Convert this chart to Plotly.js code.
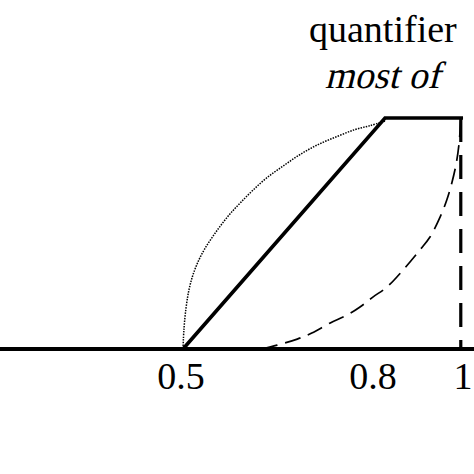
<!DOCTYPE html>
<html>
<head>
<meta charset="utf-8">
<script src="https://cdn.plot.ly/plotly-3.0.1.min.js"></script>
<style>html,body{margin:0;padding:0;background:#fff;}#chart{width:474px;height:474px;}</style>
</head>
<body>
<div id="chart"></div>
<script>
// Membership function of the quantifier "most of" (solid)
const solidX = [0.5, 0.8607, 1.0];
const solidY = [0, 1, 1];

// Dotted curve (concave)
const dottedX = [0.5, 0.5018, 0.5054, 0.5107, 0.5179, 0.5286, 0.5411, 0.5554, 0.5696, 0.5857, 0.6036, 0.625, 0.65, 0.6786, 0.7089, 0.7411, 0.775, 0.8071, 0.8339, 0.8607];
const dottedY = [0, 0.090, 0.178, 0.257, 0.322, 0.387, 0.443, 0.495, 0.542, 0.590, 0.636, 0.688, 0.742, 0.792, 0.842, 0.885, 0.920, 0.950, 0.967, 0.987];

// Dashed curve (convex)
const dashedX = [0.641, 0.668, 0.704, 0.730, 0.763, 0.793, 0.816, 0.839, 0.864, 0.893, 0.923, 0.941, 0.959, 0.971, 0.980, 0.988, 0.993, 0.996];
const dashedY = [0, 0.017, 0.043, 0.069, 0.113, 0.147, 0.182, 0.225, 0.268, 0.342, 0.429, 0.485, 0.571, 0.645, 0.719, 0.805, 0.892, 0.991];

// Vertical dashed drop at x = 1
const dropX = [0.996, 0.996];
const dropY = [1, 0];

// Tick labels
const tickVals = [0.4964, 0.8393, 1.0];
const tickText = ['0.5', '0.8', '1'];

// Titles
const titleLine1 = 'quantifier';
const titleLine2 = 'most of';

const traces = [
  {x: dottedX, y: dottedY, mode: 'lines', line: {color: '#000', width: 1.5, dash: '1.5px,1.2px', shape: 'spline', smoothing: 1}, hoverinfo: 'skip'},
  {x: dashedX, y: dashedY, mode: 'lines', line: {color: '#000', width: 1.7, dash: '16px,8px', shape: 'spline'}, hoverinfo: 'skip'},
  {x: dropX, y: dropY, mode: 'lines', line: {color: '#000', width: 3.2, dash: '24px,13px'}, hoverinfo: 'skip'},
  {x: solidX, y: solidY, mode: 'lines', line: {color: '#000', width: 3.6}, hoverinfo: 'skip'}
];

const serif = 'Liberation Serif';

const layout = {
  width: 474, height: 474,
  margin: {l: 0, r: 0, t: 0, b: 0},
  paper_bgcolor: '#fff', plot_bgcolor: '#fff',
  showlegend: false,
  xaxis: {
    range: [0.1732, 1.0196],
    showgrid: false, zeroline: false, showline: false,
    anchor: 'free', position: 0.2637,
    tickmode: 'array', tickvals: tickVals, ticktext: tickText,
    ticks: '', ticklabelstandoff: 1, ticklabeloverflow: 'allow',
    tickfont: {family: serif, size: 38, color: '#000'},
    fixedrange: true
  },
  yaxis: {
    range: [-0.541, 1.511],
    showgrid: false, showticklabels: false, ticks: '', showline: false,
    zeroline: true, zerolinecolor: '#000', zerolinewidth: 3.2,
    fixedrange: true
  },
  annotations: [
    {x: 0.857, y: 0.939, xref: 'x', yref: 'paper', xanchor: 'center', yanchor: 'middle', showarrow: false,
     text: titleLine1, font: {family: serif, size: 38, color: '#000'}},
    {x: 0.8616, y: 0.842, xref: 'x', yref: 'paper', xanchor: 'center', yanchor: 'middle', showarrow: false,
     text: titleLine2, font: {family: serif, size: 38, color: '#000'}}
  ]
};

Plotly.newPlot('chart', traces, layout, {staticPlot: true, displayModeBar: false}).then(function (gd) {
  // Slant the second annotation (serif italic look) without changing font family
  const texts = gd.querySelectorAll('.annotation-text-g text');
  if (texts.length > 1) {
    const t = texts[1];
    t.style.transformBox = 'fill-box';
    t.style.transformOrigin = 'center';
    t.style.transform = 'skewX(-14deg)';
  }
});
</script>
</body>
</html>
